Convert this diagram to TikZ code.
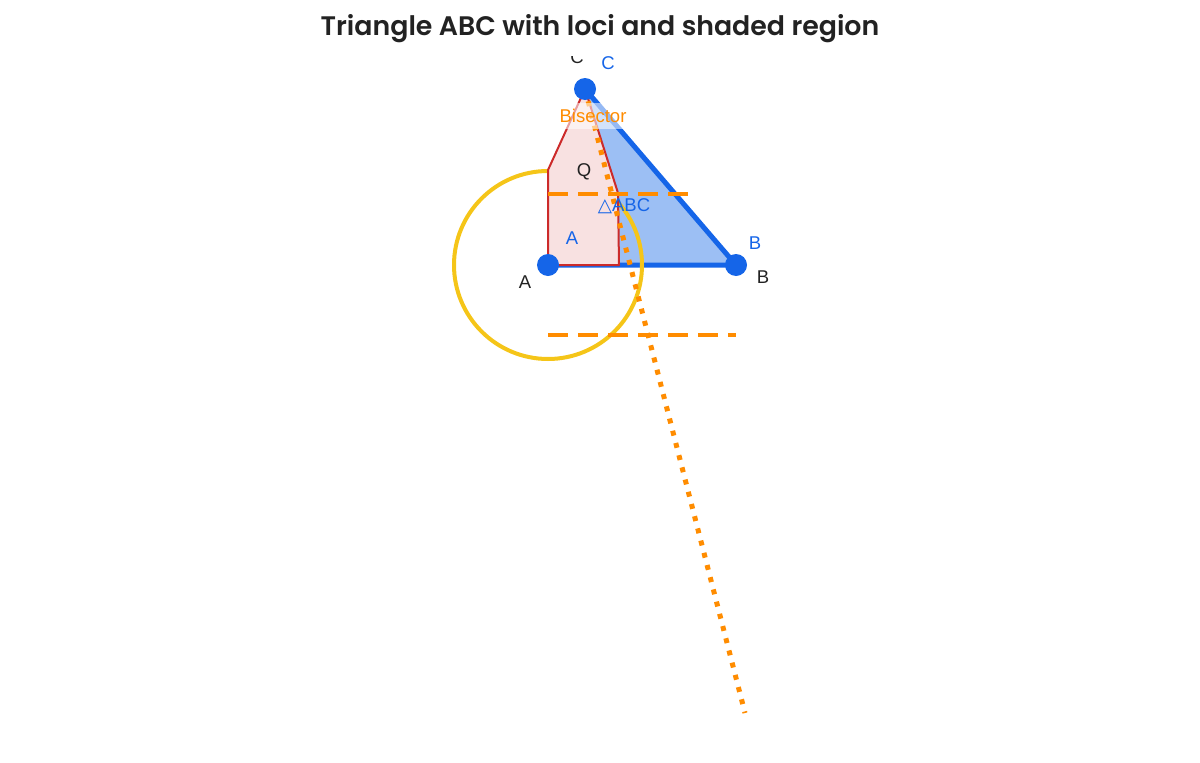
\documentclass[tikz,border=0pt]{standalone}
\usepackage{fontspec}
\setmainfont{Liberation Sans}
\newfontfamily\titlefont{Poppins}[UprightFont=* SemiBold]
\newfontfamily\symfont{DejaVu Sans}
\definecolor{triblue}{HTML}{1565E8}
\definecolor{trifill}{HTML}{9CBFF4}
\definecolor{regfill}{HTML}{F8E1E1}
\definecolor{regline}{HTML}{CC2A2A}
\definecolor{locyel}{HTML}{F5C518}
\definecolor{locorg}{HTML}{FF8C00}
\definecolor{txtblack}{HTML}{222222}
\tikzset{
  pt/.style={circle,fill=triblue,inner sep=0pt,minimum size=22pt},
  lblk/.style={text=txtblack,font=\fontsize{18.5}{22}\selectfont,inner sep=0pt},
  lblu/.style={text=triblue,font=\fontsize{18.5}{22}\selectfont,inner sep=0pt},
  dashloc/.style={draw=locorg,line width=4pt,dash pattern=on 20pt off 10pt},
  dotloc/.style={draw=locorg,line width=5pt,dash pattern=on 5pt off 7.6pt},
}
\begin{document}
\begin{tikzpicture}[x=1pt,y=-1pt]
\useasboundingbox (0,0) rectangle (1200,763);
\coordinate (A) at (548,265);
\coordinate (B) at (736,265);
\coordinate (C) at (585,89);
\coordinate (P1) at (548,170);
\coordinate (P2) at (618,193);
\coordinate (P3) at (619,265);
\coordinate (D1s) at (548,194);
\coordinate (D1e) at (688,194);
\coordinate (D2s) at (548,335);
\coordinate (D2e) at (736,335);
\coordinate (Bend) at (745,713);
% title
\node (title) at (600,29) {\titlefont\fontsize{26.8}{30}\selectfont\color{txtblack}Triangle ABC with loci and shaded region};
\begin{scope}
\clip (0,56) rectangle (1200,763);
% triangle fill
\fill[trifill] (A) -- (B) -- (C) -- cycle;
\draw[triblue,line width=5pt,line cap=round] (A) -- (B) -- (C);
% circle locus
\draw[locyel,line width=4pt] (A) circle[radius=94];
% shaded region
\filldraw[fill=regfill,draw=regline,line width=2pt,line join=round] (A) -- (P1) -- (C) -- (P2) -- (P3) -- cycle;
% dashed lines
\draw[dashloc] (D1s) -- (D1e);
\draw[dashloc] (D2s) -- (D2e);
% bisector
\draw[dotloc] (C) -- (Bend);
\node[fill=white,fill opacity=0.55,text opacity=1,text=locorg,font=\fontsize{18.5}{22}\selectfont,minimum width=71pt,minimum height=26pt,inner sep=0pt] (bis) at (593,116) {Bisector};
% points
\node[pt] (pA) at (A) {};
\node[pt] (pB) at (B) {};
\node[pt] (pC) at (C) {};
% labels
\node[lblk] (lA) at (525,282) {A};
\node[lblk] (lB) at (763,277) {B};
\node[lblk] (lQ) at (584,172) {Q};
\node[lblk] (lC) at (577,57) {C};
\node[lblu] (bA) at (572,238) {A};
\node[lblu] (bB) at (755,243) {B};
\node[lblu] (bC) at (608,63) {C};
\node[lblu] (tri) at (624,206) {{\symfont △}ABC};
\end{scope}
\end{tikzpicture}
\end{document}
